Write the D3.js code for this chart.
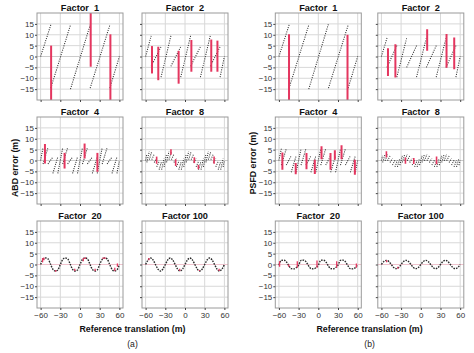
<!DOCTYPE html>
<html><head><meta charset="utf-8">
<script src="https://cdn.jsdelivr.net/npm/d3@7"></script>
<style>
body{margin:0;background:#fff}
svg{display:block}
text{font-family:"Liberation Sans",Arial,sans-serif}
</style>
</head><body>
<svg id="c" width="474" height="353"></svg>
<script>
// ---------- data ----------
const xTicks = [-60, -30, 0, 30, 60];
const yTicks = [-15, -10, -5, 0, 5, 10, 15];
const panelTitles = ["Factor  1", "Factor  2", "Factor  4", "Factor  8", "Factor  20", "Factor 100"];
const figureLabels = ["(a)", "(b)"];
const yAxisTitles = ["ABD error (m)", "PSFD error (m)"];
const xAxisTitle = "Reference translation (m)";

// sawtooth panels: jump positions, value just before jump, value just after jump
const f1Jumps = [-44.5, -14.5, 15.5, 45.5];
const a1Tops = [14.5, 14.5, 14.5, 14.5];
const a1Bottoms = [-14.5, -15, -14.5, -14.5];
const b1Tops = [14.5, 14.5, 15, 14.5];
const b1Bottoms = [-14.5, -15, -14.5, -14.5];

const f2Jumps = [-51.5, -36.5, -21.5, -6.5, 8.5, 23.5, 38.5, 53.5];
const a2Tops = [9.5, 4.5, 9.5, 4.5, 9.5, 4.5, 9.5, 4.5];
const a2Bottoms = [-4.5, -9.5, -4.5, -9.5, -4.5, -9.5, -4.5, -9.5];
const b2Tops = [8.5, 5, 8.5, 5, 8.5, 5, 8.5, 5];
const b2Bottoms = [-5, -9.5, -5, -9.5, -5, -9.5, -5, -9.5];

const f4Jumps = [-56.3, -48.8, -41.3, -33.8, -26.3, -18.8, -11.3, -3.8, 3.8, 11.3, 18.8, 26.3, 33.8, 41.3, 48.8, 56.3];
const a4Tops = [5.9, 5.9, 1.6, 1.6, 5.9, 5.9, 1.6, 1.6, 5.9, 5.9, 1.6, 1.6, 5.9, 5.9, 1.6, 1.6];
const a4Bottoms = [-1.6, -1.6, -5.9, -5.9, -1.6, -1.6, -5.9, -5.9, -1.6, -1.6, -5.9, -5.9, -1.6, -1.6, -5.9, -5.9];
const b4Tops = [5.4, 5.4, 2.1, 2.1, 5.4, 5.4, 2.1, 2.1, 5.4, 5.4, 2.1, 2.1, 5.4, 5.4, 2.1, 2.1];
const b4Bottoms = [-2.1, -2.1, -5.4, -5.4, -2.1, -2.1, -5.4, -5.4, -2.1, -2.1, -5.4, -5.4, -2.1, -2.1, -5.4, -5.4];

const f8Jumps = [-58.1, -54.4, -50.6, -46.9, -43.1, -39.4, -35.6, -31.9, -28.1, -24.4, -20.6, -16.9, -13.1, -9.4, -5.6, -1.9,
                 1.9, 5.6, 9.4, 13.1, 16.9, 20.6, 24.4, 28.1, 31.9, 35.6, 39.4, 43.1, 46.9, 50.6, 54.4, 58.1];
const a8Tops = [2.9, 4.2, 4.2, 2.9, 0.9, -0.4, -0.4, 0.9, 2.9, 4.2, 4.2, 2.9, 0.9, -0.4, -0.4, 0.9,
                2.9, 4.2, 4.2, 2.9, 0.9, -0.4, -0.4, 0.9, 2.9, 4.2, 4.2, 2.9, 0.9, -0.4, -0.4, 0.9];
const a8Bottoms = [-0.9, 0.4, 0.4, -0.9, -2.9, -4.2, -4.2, -2.9, -0.9, 0.4, 0.4, -0.9, -2.9, -4.2, -4.2, -2.9,
                   -0.9, 0.4, 0.4, -0.9, -2.9, -4.2, -4.2, -2.9, -0.9, 0.4, 0.4, -0.9, -2.9, -4.2, -4.2, -2.9];
const b8Tops = [2.1, 2.9, 2.9, 2.1, 0.9, 0.1, 0.1, 0.9, 2.1, 2.9, 2.9, 2.1, 0.9, 0.1, 0.1, 0.9,
                2.1, 2.9, 2.9, 2.1, 0.9, 0.1, 0.1, 0.9, 2.1, 2.9, 2.9, 2.1, 0.9, 0.1, 0.1, 0.9];
const b8Bottoms = [-0.9, -0.1, -0.1, -0.9, -2.1, -2.9, -2.9, -2.1, -0.9, -0.1, -0.1, -0.9, -2.1, -2.9, -2.9, -2.1,
                   -0.9, -0.1, -0.1, -0.9, -2.1, -2.9, -2.9, -2.1, -0.9, -0.1, -0.1, -0.9, -2.1, -2.9, -2.9, -2.1];

// wave panels (Factor 20 / 100)
const waveX = [-60, -56.25, -52.5, -48.75, -45, -41.25, -37.5, -33.75, -30, -26.25, -22.5, -18.75, -15, -11.25, -7.5, -3.75,
               0, 3.75, 7.5, 11.25, 15, 18.75, 22.5, 26.25, 30, 33.75, 37.5, 41.25, 45, 48.75, 52.5, 56.25, 60];
const a20 = [0, 2.3, 3, 2.6, 0.2, -2.2, -3, -2.5, 0, 2.3, 3, 2.6, 0.2, -2.2, -3, -2.5,
             0, 2.3, 3, 2.6, 0.2, -2.2, -3, -2.5, 0, 2.3, 3, 2.6, 0.2, -2.2, -3, -2.5, 0];
const a100 = [0, 2.1, 3, 2.1, 0, -2.1, -3, -2.1, 0, 2.1, 3, 2.1, 0, -2.1, -3, -2.1,
              0, 2.1, 3, 2.1, 0, -2.1, -3, -2.1, 0, 2.1, 3, 2.1, 0, -2.1, -3, -2.1, 0];
const b20 = [-0.3, 1.9, 2, 1.3, -0.5, -1.9, -2, -1.5, -0.3, 1.9, 2, 1.3, -0.5, -1.9, -2, -1.5,
             -0.3, 1.9, 2, 1.3, -0.5, -1.9, -2, -1.5, -0.3, 1.9, 2, 1.3, -0.5, -1.9, -2, -1.5, 0];
const b100 = [0, 1.4, 1.9, 1.4, 0, -1.4, -1.9, -1.4, 0, 1.4, 1.9, 1.4, 0, -1.4, -1.9, -1.4,
              0, 1.4, 1.9, 1.4, 0, -1.4, -1.9, -1.4, 0, 1.4, 1.9, 1.4, 0, -1.4, -1.9, -1.4, 0];

// red vertical segments: [x, yFrom, yTo]
const a1Red = [[-44, 5, -21], [16.3, 21, -4.7], [46.3, 10.2, -21]];
const b1Red = [[-44.6, 10.2, -21], [44.5, 10, -21]];
const a2Red = [[-50.3, 4.8, -7.8], [-40.7, 4.5, -10.9], [-9.7, 2.6, -12.5], [9.7, 7.6, -7], [40, 7.8, -7], [49.4, 7.3, -7]];
const b2Red = [[-50, 3.8, -9], [-38.7, 5.6, -9.6], [9.7, 12.5, 2.7], [39.2, 10.4, -5.2], [50.9, 8.7, -5.9]];
const a4Red = [[-53.4, 7.6, -1.4], [-23.5, 3.5, -3.7], [7, 7.8, 0.9], [26.5, 3.5, -5.2]];
const b4Red = [[-54.7, 3.7, -4.3], [-34.4, -1.2, -6.3], [-18, 3.4, -4], [-5.3, 0.3, -6.2], [4.9, 6.6, 0.6],
               [18.6, 3.4, -4.3], [25.2, 4.7, 0.3], [35.4, 7, 0.6], [55.7, 0.3, -6.6]];
const a8Red = [[-43.2, 1.8, -1.5], [-21.4, 5.2, 2.6], [-14.2, 0.6, -2.5], [14.2, 1.5, -1.2], [20.4, -2, -4], [44.3, 1.8, -1.5]];
const b8Red = [[-52.4, 4.2, 1.4], [-23.4, 1.4, -1.5], [-10.7, 1.2, -1.6], [24, 1.8, -1.7]];
const a20Red = [[-57, 1, 3], [-55, 2, 3.2], [-37, -2.5, -3.3], [-8, -2, -3], [5, 1.5, 3], [8, 2.5, 3.3],
                [23, -2, -3], [35, 2.5, 3.2], [38, 2.5, 3.3], [53, -1.5, -3], [57, -1, 0.5]];
const a100Red = [[-55, 2, 3], [-8, -2, -3], [22, -2.5, -3], [52, -2, -3]];
const b20Red = [[-59, -1, 1.5], [-45, 0, -1], [-32, -1.5, 1.5], [-2, -1.5, 1.8], [28, -1.5, 1.5], [58, -1.5, 0.5]];
const b100Red = [[-52, 1, 2], [-35, -1, -2]];

// ---------- assemble panels ----------
function sawSegments(jumps, tops, bottoms) {
  const segs = [];
  let start = [-60, 0];
  jumps.forEach((j, i) => { segs.push([start, [j, tops[i]]]); start = [j, bottoms[i]]; });
  segs.push([start, [60, 0]]);
  return segs;
}
const wave = ys => [waveX.map((x, i) => [x, ys[i]])];

const panels = [
  {fig: 0, col: 0, row: 0, t: 0, lines: sawSegments(f1Jumps, a1Tops, a1Bottoms), red: a1Red},
  {fig: 0, col: 1, row: 0, t: 1, lines: sawSegments(f2Jumps, a2Tops, a2Bottoms), red: a2Red},
  {fig: 0, col: 0, row: 1, t: 2, lines: sawSegments(f4Jumps, a4Tops, a4Bottoms), red: a4Red},
  {fig: 0, col: 1, row: 1, t: 3, lines: sawSegments(f8Jumps, a8Tops, a8Bottoms), red: a8Red},
  {fig: 0, col: 0, row: 2, t: 4, lines: wave(a20), red: a20Red, smooth: true},
  {fig: 0, col: 1, row: 2, t: 5, lines: wave(a100), red: a100Red, smooth: true},
  {fig: 1, col: 0, row: 0, t: 0, lines: sawSegments(f1Jumps, b1Tops, b1Bottoms), red: b1Red},
  {fig: 1, col: 1, row: 0, t: 1, lines: sawSegments(f2Jumps, b2Tops, b2Bottoms), red: b2Red},
  {fig: 1, col: 0, row: 1, t: 2, lines: sawSegments(f4Jumps, b4Tops, b4Bottoms), red: b4Red},
  {fig: 1, col: 1, row: 1, t: 3, lines: sawSegments(f8Jumps, b8Tops, b8Bottoms), red: b8Red},
  {fig: 1, col: 0, row: 2, t: 4, lines: wave(b20), red: b20Red, smooth: true},
  {fig: 1, col: 1, row: 2, t: 5, lines: wave(b100), red: b100Red, smooth: true}
];

// ---------- layout ----------
const colX = [[[37, 123], [142, 228]], [[275.3, 361.3], [377.8, 463.8]]];
const rowY = [[100, 13], [204, 117], [308, 221]];
const redW = [2, 2, 2, 1.6, 1.3, 1.3];
const FONT = '"Liberation Sans",Arial,sans-serif';

const svg = d3.select("#c");
const defs = svg.append("defs");

panels.forEach((p, idx) => {
  const [x0, x1] = colX[p.fig][p.col];
  const [yb, yt] = rowY[p.row];
  const x = d3.scaleLinear().domain([-65.5, 65.5]).range([x0, x1]);
  const y = d3.scaleLinear().domain([-20, 20]).range([yb, yt]);
  const g = svg.append("g");

  defs.append("clipPath").attr("id", "cp" + idx)
    .append("rect").attr("x", x0).attr("y", yt).attr("width", x1 - x0).attr("height", yb - yt);

  g.selectAll(".gx").data(xTicks).join("line")
    .attr("x1", d => x(d)).attr("x2", d => x(d)).attr("y1", yt).attr("y2", yb)
    .attr("stroke", "#d8d8d8").attr("stroke-width", 1);
  g.selectAll(".gy").data(yTicks).join("line")
    .attr("x1", x0).attr("x2", x1).attr("y1", d => y(d)).attr("y2", d => y(d))
    .attr("stroke", d => (d === 0 && p.row === 2) ? "#efc3cd" : (d === 0 ? "#cccccc" : "#d8d8d8"))
    .attr("stroke-width", 1);

  const inner = g.append("g").attr("clip-path", `url(#cp${idx})`);

  const line = d3.line().x(d => x(d[0])).y(d => y(d[1]));
  if (p.smooth) line.curve(d3.curveMonotoneX);
  inner.selectAll("path.s").data(p.lines).join("path")
    .attr("d", line).attr("fill", "none")
    .attr("stroke", "#2a2a2a")
    .attr("stroke-width", p.row === 2 ? 1.4 : 1.05)
    .attr("stroke-dasharray", p.row === 2 ? "1.6 1.1" : (p.row === 1 ? "1 1.2" : "1 1.3"));

  inner.selectAll("line.r").data(p.red).join("line")
    .attr("x1", d => x(d[0])).attr("x2", d => x(d[0]))
    .attr("y1", d => y(d[1])).attr("y2", d => y(d[2]))
    .attr("stroke", "#e4365f").attr("stroke-width", redW[p.t]);

  g.append("rect").attr("x", x0).attr("y", yt).attr("width", x1 - x0).attr("height", yb - yt)
    .attr("fill", "none").attr("stroke", "#9a9a9a").attr("stroke-width", 1);

  const ya = d3.axisLeft(y).tickValues(yTicks).tickSize(2).tickPadding(1)
    .tickFormat(p.col === 0 ? d3.format("d") : () => "");
  const yg = g.append("g").attr("transform", `translate(${x0},0)`).call(ya);
  yg.select(".domain").remove();
  yg.selectAll(".tick line").attr("stroke", "#444");
  yg.selectAll(".tick text").attr("font-size", "8px").attr("fill", "#333").style("font-family", FONT);

  const xa = d3.axisBottom(x).tickValues(xTicks).tickSize(2).tickPadding(2)
    .tickFormat(p.row === 2 ? d3.format("d") : () => "");
  const xg = g.append("g").attr("transform", `translate(0,${yb})`).call(xa);
  xg.select(".domain").remove();
  xg.selectAll(".tick line").attr("stroke", "#444");
  xg.selectAll(".tick text").attr("font-size", "8px").attr("fill", "#333").style("font-family", FONT);

  g.append("text").attr("x", (x0 + x1) / 2).attr("y", yt - 1.8)
    .attr("text-anchor", "middle").attr("font-size", "9.2px").attr("font-weight", "bold")
    .style("white-space", "pre").attr("fill", "#111")
    .text(panelTitles[p.t]);
});

[0, 1].forEach(f => {
  const left = colX[f][0][0], right = colX[f][1][1];
  const cx = (left + right) / 2;
  svg.append("text").attr("x", cx).attr("y", 331.5).attr("text-anchor", "middle")
    .attr("font-size", "8.8px").attr("font-weight", "bold").attr("fill", "#111").text(xAxisTitle);
  svg.append("text").attr("x", cx).attr("y", 346.5).attr("text-anchor", "middle")
    .attr("font-size", "8.6px").attr("fill", "#222").text(figureLabels[f]);
  const yx = f === 0 ? 14.5 : 252.5, yc = f === 0 ? 168 : 163;
  svg.append("text").attr("transform", `translate(${yx},${yc}) rotate(-90)`)
    .attr("text-anchor", "middle").attr("dominant-baseline", "central")
    .attr("font-size", "8.8px").attr("font-weight", "bold").attr("fill", "#111").text(yAxisTitles[f]);
});
</script>
</body></html>
